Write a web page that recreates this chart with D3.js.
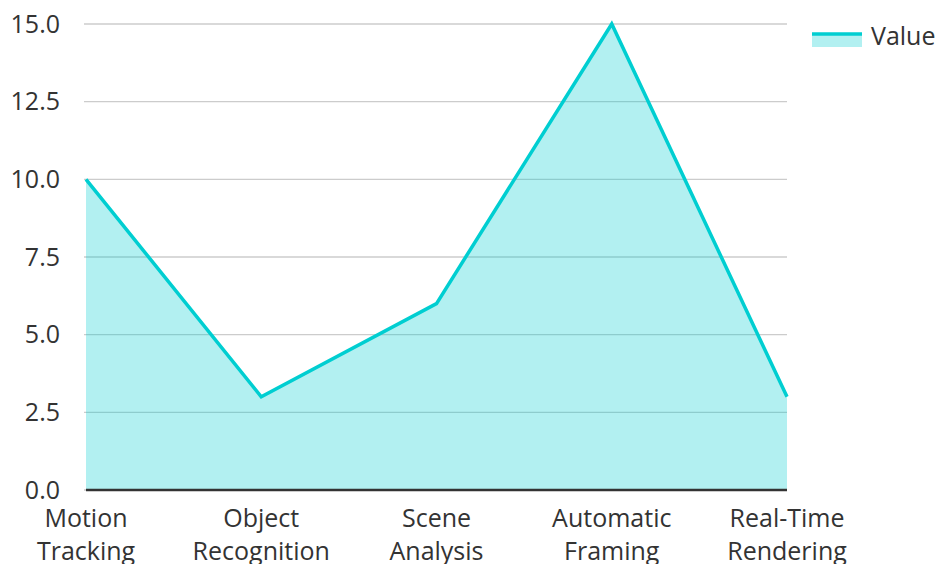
<!DOCTYPE html>
<html>
<head>
<meta charset="utf-8">
<script src="https://cdn.jsdelivr.net/npm/d3@7"></script>
<style>
  body { margin: 0; background: #fff; }
  text { font-family: "Open Sans", "Noto Sans", sans-serif; fill: #333; }
</style>
</head>
<body>
<div id="chart-area"></div>
<script>
var categories = ["Motion Tracking", "Object Recognition", "Scene Analysis", "Automatic Framing", "Real-Time Rendering"];
var values = [10, 3, 6, 15, 3];
var yTicks = [0, 2.5, 5, 7.5, 10, 12.5, 15];
var seriesName = "Value";

var margin = { left: 86, right: 150, top: 24, bottom: 74 };
var width = 937 - margin.left - margin.right,
    height = 564 - margin.top - margin.bottom;

var svg = d3.select("#chart-area").append("svg")
    .attr("width", 937).attr("height", 564);
var g = svg.append("g")
    .attr("transform", "translate(" + margin.left + "," + margin.top + ")");

var data = categories.map((c, i) => ({ cat: c, value: values[i] }));

var x = d3.scalePoint().domain(categories).range([0, width]).padding(0);
var y = d3.scaleLinear().domain([0, 15]).range([height, 0]);

// grid
g.append("g").selectAll("line").data(yTicks).enter().append("line")
    .attr("x1", -2).attr("x2", width)
    .attr("y1", d => y(d)).attr("y2", d => y(d))
    .attr("stroke", "#cccccc").attr("stroke-width", 1.3);

// y labels
g.append("g").selectAll("text").data(yTicks).enter().append("text")
    .attr("x", -26).attr("y", d => y(d))
    .attr("dy", "0.35em")
    .attr("text-anchor", "end")
    .attr("font-size", "25px")
    .text(d => d.toFixed(1));

var area = d3.area().x(d => x(d.cat)).y0(height).y1(d => y(d.value));
var line = d3.line().x(d => x(d.cat)).y(d => y(d.value));

g.append("path").datum(data).attr("d", area)
    .attr("fill", "#00ced1").attr("fill-opacity", 0.3);
g.append("path").datum(data).attr("d", line)
    .attr("fill", "none").attr("stroke", "#00ced1").attr("stroke-width", 3.5);

// x axis line
g.append("line").attr("x1", 0).attr("x2", width)
    .attr("y1", height).attr("y2", height)
    .attr("stroke", "#333").attr("stroke-width", 2.5);

// x labels, two lines
var xl = g.append("g").selectAll("text").data(categories).enter().append("text")
    .attr("text-anchor", "middle")
    .attr("font-size", "25px")
    .attr("transform", d => "translate(" + x(d) + "," + (height + 37) + ")");
xl.each(function (d) {
  var words = d.split(" ");
  var t = d3.select(this);
  words.forEach((w, i) => {
    t.append("tspan").attr("x", 0).attr("dy", i === 0 ? 0 : 33).text(w);
  });
});

// legend
var lg = svg.append("g").attr("transform", "translate(812,30)");
lg.append("rect").attr("x", 0).attr("y", 3).attr("width", 50).attr("height", 14)
    .attr("fill", "#00ced1").attr("fill-opacity", 0.3);
lg.append("line").attr("x1", 0).attr("x2", 50).attr("y1", 4).attr("y2", 4)
    .attr("stroke", "#00ced1").attr("stroke-width", 3.5);
lg.append("text").attr("x", 59).attr("y", 6).attr("dy", "0.35em")
    .attr("font-size", "25px").text(seriesName);
</script>
</body>
</html>
